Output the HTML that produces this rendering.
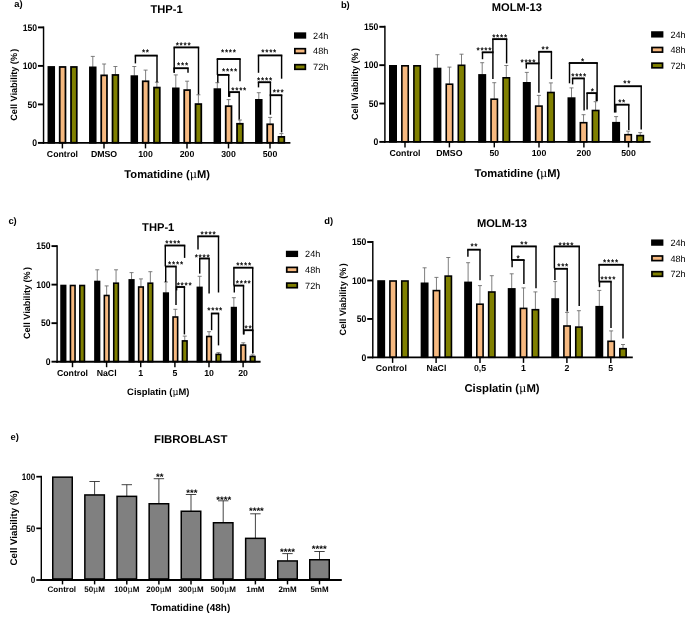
<!DOCTYPE html>
<html lang="en">
<head>
<meta charset="utf-8">
<title>Cell viability figure</title>
<style>
html,body{margin:0;padding:0;background:#fff;}
body{width:685px;height:620px;overflow:hidden;}
svg{display:block;}
svg text{font-family:"Liberation Sans", sans-serif;fill:#000;text-rendering:geometricPrecision;}
</style>
</head>
<body>
<svg width="685" height="620" viewBox="0 0 685 620">
<rect x="0" y="0" width="685" height="620" fill="#ffffff"/>
<rect x="48.42" y="66.97" width="5.75" height="75.75" fill="#000" stroke="#000" stroke-width="1.75"/>
<rect x="59.72" y="66.97" width="5.75" height="75.75" fill="#f6b980" stroke="#000" stroke-width="1.75"/>
<rect x="71.03" y="66.97" width="5.75" height="75.75" fill="#808000" stroke="#000" stroke-width="1.75"/>
<line x1="92.8" y1="56.4" x2="92.8" y2="67" stroke="#686868" stroke-width="0.85" stroke-linecap="butt"/>
<line x1="90.8" y1="56.4" x2="94.8" y2="56.4" stroke="#686868" stroke-width="0.85" stroke-linecap="butt"/>
<rect x="89.92" y="67.38" width="5.75" height="75.35" fill="#000" stroke="#000" stroke-width="1.75"/>
<line x1="104.1" y1="64" x2="104.1" y2="75" stroke="#686868" stroke-width="0.85" stroke-linecap="butt"/>
<line x1="102.1" y1="64" x2="106.1" y2="64" stroke="#686868" stroke-width="0.85" stroke-linecap="butt"/>
<rect x="101.22" y="75.38" width="5.75" height="67.35" fill="#f6b980" stroke="#000" stroke-width="1.75"/>
<line x1="115.4" y1="66.5" x2="115.4" y2="74.6" stroke="#686868" stroke-width="0.85" stroke-linecap="butt"/>
<line x1="113.4" y1="66.5" x2="117.4" y2="66.5" stroke="#686868" stroke-width="0.85" stroke-linecap="butt"/>
<rect x="112.53" y="74.97" width="5.75" height="67.75" fill="#808000" stroke="#000" stroke-width="1.75"/>
<line x1="134.3" y1="66.5" x2="134.3" y2="75.8" stroke="#686868" stroke-width="0.85" stroke-linecap="butt"/>
<line x1="132.3" y1="66.5" x2="136.3" y2="66.5" stroke="#686868" stroke-width="0.85" stroke-linecap="butt"/>
<rect x="131.43" y="76.17" width="5.75" height="66.55" fill="#000" stroke="#000" stroke-width="1.75"/>
<line x1="145.6" y1="70.1" x2="145.6" y2="80.9" stroke="#686868" stroke-width="0.85" stroke-linecap="butt"/>
<line x1="143.6" y1="70.1" x2="147.6" y2="70.1" stroke="#686868" stroke-width="0.85" stroke-linecap="butt"/>
<rect x="142.73" y="81.28" width="5.75" height="61.45" fill="#f6b980" stroke="#000" stroke-width="1.75"/>
<line x1="156.9" y1="82.2" x2="156.9" y2="87.2" stroke="#686868" stroke-width="0.85" stroke-linecap="butt"/>
<line x1="154.9" y1="82.2" x2="158.9" y2="82.2" stroke="#686868" stroke-width="0.85" stroke-linecap="butt"/>
<rect x="154.03" y="87.58" width="5.75" height="55.15" fill="#808000" stroke="#000" stroke-width="1.75"/>
<line x1="175.8" y1="74.9" x2="175.8" y2="88" stroke="#686868" stroke-width="0.85" stroke-linecap="butt"/>
<line x1="173.8" y1="74.9" x2="177.8" y2="74.9" stroke="#686868" stroke-width="0.85" stroke-linecap="butt"/>
<rect x="172.93" y="88.38" width="5.75" height="54.35" fill="#000" stroke="#000" stroke-width="1.75"/>
<line x1="187.1" y1="81.2" x2="187.1" y2="89.7" stroke="#686868" stroke-width="0.85" stroke-linecap="butt"/>
<line x1="185.1" y1="81.2" x2="189.1" y2="81.2" stroke="#686868" stroke-width="0.85" stroke-linecap="butt"/>
<rect x="184.23" y="90.08" width="5.75" height="52.65" fill="#f6b980" stroke="#000" stroke-width="1.75"/>
<line x1="198.4" y1="94.8" x2="198.4" y2="103.7" stroke="#686868" stroke-width="0.85" stroke-linecap="butt"/>
<line x1="196.4" y1="94.8" x2="200.4" y2="94.8" stroke="#686868" stroke-width="0.85" stroke-linecap="butt"/>
<rect x="195.53" y="104.08" width="5.75" height="38.65" fill="#808000" stroke="#000" stroke-width="1.75"/>
<line x1="217.3" y1="82.7" x2="217.3" y2="88.8" stroke="#686868" stroke-width="0.85" stroke-linecap="butt"/>
<line x1="215.3" y1="82.7" x2="219.3" y2="82.7" stroke="#686868" stroke-width="0.85" stroke-linecap="butt"/>
<rect x="214.43" y="89.17" width="5.75" height="53.55" fill="#000" stroke="#000" stroke-width="1.75"/>
<line x1="228.6" y1="99.6" x2="228.6" y2="105.8" stroke="#686868" stroke-width="0.85" stroke-linecap="butt"/>
<line x1="226.6" y1="99.6" x2="230.6" y2="99.6" stroke="#686868" stroke-width="0.85" stroke-linecap="butt"/>
<rect x="225.73" y="106.17" width="5.75" height="36.55" fill="#f6b980" stroke="#000" stroke-width="1.75"/>
<line x1="239.9" y1="120" x2="239.9" y2="123.4" stroke="#686868" stroke-width="0.85" stroke-linecap="butt"/>
<line x1="237.9" y1="120" x2="241.9" y2="120" stroke="#686868" stroke-width="0.85" stroke-linecap="butt"/>
<rect x="237.03" y="123.78" width="5.75" height="18.95" fill="#808000" stroke="#000" stroke-width="1.75"/>
<line x1="258.8" y1="92.7" x2="258.8" y2="99.5" stroke="#686868" stroke-width="0.85" stroke-linecap="butt"/>
<line x1="256.8" y1="92.7" x2="260.8" y2="92.7" stroke="#686868" stroke-width="0.85" stroke-linecap="butt"/>
<rect x="255.93" y="99.88" width="5.75" height="42.85" fill="#000" stroke="#000" stroke-width="1.75"/>
<line x1="270.1" y1="117.4" x2="270.1" y2="123.9" stroke="#686868" stroke-width="0.85" stroke-linecap="butt"/>
<line x1="268.1" y1="117.4" x2="272.1" y2="117.4" stroke="#686868" stroke-width="0.85" stroke-linecap="butt"/>
<rect x="267.23" y="124.28" width="5.75" height="18.45" fill="#f6b980" stroke="#000" stroke-width="1.75"/>
<line x1="281.4" y1="133.6" x2="281.4" y2="136.5" stroke="#686868" stroke-width="0.85" stroke-linecap="butt"/>
<line x1="279.4" y1="133.6" x2="283.4" y2="133.6" stroke="#686868" stroke-width="0.85" stroke-linecap="butt"/>
<rect x="278.53" y="136.88" width="5.75" height="5.85" fill="#808000" stroke="#000" stroke-width="1.75"/>
<line x1="43.55" y1="26.45" x2="43.55" y2="143.85" stroke="#000" stroke-width="1.45" stroke-linecap="butt"/>
<line x1="42.82" y1="142.9" x2="290.4" y2="142.9" stroke="#000" stroke-width="1.9" stroke-linecap="butt"/>
<line x1="37.95" y1="142.9" x2="43.55" y2="142.9" stroke="#000" stroke-width="1.9" stroke-linecap="butt"/>
<text transform="translate(37.05 146) scale(1 1.11)" font-size="8.65" font-weight="bold" text-anchor="end">0</text>
<line x1="37.95" y1="104.4" x2="43.55" y2="104.4" stroke="#000" stroke-width="1.9" stroke-linecap="butt"/>
<text transform="translate(37.05 107.5) scale(1 1.11)" font-size="8.65" font-weight="bold" text-anchor="end">50</text>
<line x1="37.95" y1="65.9" x2="43.55" y2="65.9" stroke="#000" stroke-width="1.9" stroke-linecap="butt"/>
<text transform="translate(37.05 69) scale(1 1.11)" font-size="8.65" font-weight="bold" text-anchor="end">100</text>
<line x1="37.95" y1="27.4" x2="43.55" y2="27.4" stroke="#000" stroke-width="1.9" stroke-linecap="butt"/>
<text transform="translate(37.05 30.5) scale(1 1.11)" font-size="8.65" font-weight="bold" text-anchor="end">150</text>
<line x1="62.4" y1="142.9" x2="62.4" y2="148.4" stroke="#000" stroke-width="1.45" stroke-linecap="butt"/>
<line x1="104" y1="142.9" x2="104" y2="148.4" stroke="#000" stroke-width="1.45" stroke-linecap="butt"/>
<line x1="145.5" y1="142.9" x2="145.5" y2="148.4" stroke="#000" stroke-width="1.45" stroke-linecap="butt"/>
<line x1="187" y1="142.9" x2="187" y2="148.4" stroke="#000" stroke-width="1.45" stroke-linecap="butt"/>
<line x1="228.5" y1="142.9" x2="228.5" y2="148.4" stroke="#000" stroke-width="1.45" stroke-linecap="butt"/>
<line x1="270" y1="142.9" x2="270" y2="148.4" stroke="#000" stroke-width="1.45" stroke-linecap="butt"/>
<text x="62.4" y="157" font-size="8.75" font-weight="bold" text-anchor="middle">Control</text>
<text x="104" y="157" font-size="8.75" font-weight="bold" text-anchor="middle">DMSO</text>
<text x="145.5" y="157" font-size="8.75" font-weight="bold" text-anchor="middle">100</text>
<text x="187" y="157" font-size="8.75" font-weight="bold" text-anchor="middle">200</text>
<text x="228.5" y="157" font-size="8.75" font-weight="bold" text-anchor="middle">300</text>
<text x="270" y="157" font-size="8.75" font-weight="bold" text-anchor="middle">500</text>
<line x1="134.68" y1="55.6" x2="157.72" y2="55.6" stroke="#000" stroke-width="1.9" stroke-linecap="butt"/>
<line x1="135.4" y1="55.6" x2="135.4" y2="63.4" stroke="#000" stroke-width="1.45" stroke-linecap="butt"/>
<line x1="157" y1="55.6" x2="157" y2="82.2" stroke="#000" stroke-width="1.45" stroke-linecap="butt"/>
<line x1="173.47" y1="47.4" x2="199.22" y2="47.4" stroke="#000" stroke-width="1.9" stroke-linecap="butt"/>
<line x1="174.2" y1="47.4" x2="174.2" y2="72.8" stroke="#000" stroke-width="1.45" stroke-linecap="butt"/>
<line x1="198.5" y1="47.4" x2="198.5" y2="94.4" stroke="#000" stroke-width="1.45" stroke-linecap="butt"/>
<line x1="173.47" y1="68.2" x2="188.72" y2="68.2" stroke="#000" stroke-width="1.9" stroke-linecap="butt"/>
<line x1="174.2" y1="68.2" x2="174.2" y2="72.8" stroke="#000" stroke-width="1.45" stroke-linecap="butt"/>
<line x1="188" y1="68.2" x2="188" y2="72.8" stroke="#000" stroke-width="1.45" stroke-linecap="butt"/>
<line x1="216.68" y1="59" x2="240.72" y2="59" stroke="#000" stroke-width="1.9" stroke-linecap="butt"/>
<line x1="217.4" y1="59" x2="217.4" y2="74.9" stroke="#000" stroke-width="1.45" stroke-linecap="butt"/>
<line x1="240" y1="59" x2="240" y2="81.2" stroke="#000" stroke-width="1.45" stroke-linecap="butt"/>
<line x1="217.08" y1="74.9" x2="229.42" y2="74.9" stroke="#000" stroke-width="1.9" stroke-linecap="butt"/>
<line x1="217.8" y1="74.9" x2="217.8" y2="82.4" stroke="#000" stroke-width="1.45" stroke-linecap="butt"/>
<line x1="228.7" y1="74.9" x2="228.7" y2="96.9" stroke="#000" stroke-width="1.45" stroke-linecap="butt"/>
<line x1="228.88" y1="92.1" x2="239.92" y2="92.1" stroke="#000" stroke-width="1.9" stroke-linecap="butt"/>
<line x1="229.6" y1="92.1" x2="229.6" y2="96.9" stroke="#000" stroke-width="1.45" stroke-linecap="butt"/>
<line x1="239.2" y1="92.1" x2="239.2" y2="119.4" stroke="#000" stroke-width="1.45" stroke-linecap="butt"/>
<line x1="257.77" y1="55.4" x2="282.33" y2="55.4" stroke="#000" stroke-width="1.9" stroke-linecap="butt"/>
<line x1="258.5" y1="55.4" x2="258.5" y2="72.8" stroke="#000" stroke-width="1.45" stroke-linecap="butt"/>
<line x1="281.6" y1="55.4" x2="281.6" y2="78.7" stroke="#000" stroke-width="1.45" stroke-linecap="butt"/>
<line x1="257.77" y1="82.2" x2="271.12" y2="82.2" stroke="#000" stroke-width="1.9" stroke-linecap="butt"/>
<line x1="258.5" y1="82.2" x2="258.5" y2="87.4" stroke="#000" stroke-width="1.45" stroke-linecap="butt"/>
<line x1="270.4" y1="82.2" x2="270.4" y2="114.7" stroke="#000" stroke-width="1.45" stroke-linecap="butt"/>
<line x1="269.67" y1="95.2" x2="282.33" y2="95.2" stroke="#000" stroke-width="1.9" stroke-linecap="butt"/>
<line x1="281.6" y1="95.2" x2="281.6" y2="132.4" stroke="#000" stroke-width="1.45" stroke-linecap="butt"/>
<text x="145.88" y="54.95" font-size="8.2" font-weight="bold" text-anchor="middle" letter-spacing="0.75">**</text>
<text x="183.57" y="47.85" font-size="8.2" font-weight="bold" text-anchor="middle" letter-spacing="0.75">****</text>
<text x="182.97" y="68.15" font-size="8.2" font-weight="bold" text-anchor="middle" letter-spacing="0.75">***</text>
<text x="228.88" y="54.95" font-size="8.2" font-weight="bold" text-anchor="middle" letter-spacing="0.75">****</text>
<text x="229.97" y="74.15" font-size="8.2" font-weight="bold" text-anchor="middle" letter-spacing="0.75">****</text>
<text x="239.18" y="92.95" font-size="8.2" font-weight="bold" text-anchor="middle" letter-spacing="0.75">****</text>
<text x="269.18" y="55.15" font-size="8.2" font-weight="bold" text-anchor="middle" letter-spacing="0.75">****</text>
<text x="264.98" y="83.45" font-size="8.2" font-weight="bold" text-anchor="middle" letter-spacing="0.75">****</text>
<text x="278.57" y="95.45" font-size="8.2" font-weight="bold" text-anchor="middle" letter-spacing="0.75">***</text>
<text x="166.5" y="12.65" font-size="11.15" font-weight="bold" text-anchor="middle">THP-1</text>
<text x="167.2" y="177.7" font-size="11.15" font-weight="bold" text-anchor="middle">Tomatidine (<tspan font-family="DejaVu Serif, Liberation Serif, serif" font-weight="normal">μ</tspan>M)</text>
<text x="14.3" y="6.9" font-size="9.4" font-weight="bold" text-anchor="start">a)</text>
<text x="16.9" y="84.7" font-size="9.15" font-weight="bold" text-anchor="middle" transform="rotate(-90 16.9 84.7)">Cell Viability (%<tspan dx="1.3">)</tspan></text>
<rect x="294.85" y="33.2" width="10.5" height="4.6" fill="#000" stroke="#000" stroke-width="1.7"/>
<text x="313.1" y="38.75" font-size="9.15" font-weight="normal" text-anchor="start">24h</text>
<rect x="294.85" y="48.7" width="10.5" height="4.6" fill="#f6b980" stroke="#000" stroke-width="1.7"/>
<text x="313.1" y="54.25" font-size="9.15" font-weight="normal" text-anchor="start">48h</text>
<rect x="294.85" y="64.7" width="10.5" height="4.6" fill="#808000" stroke="#000" stroke-width="1.7"/>
<text x="313.1" y="70.25" font-size="9.15" font-weight="normal" text-anchor="start">72h</text>
<rect x="389.8" y="65.8" width="6.4" height="76" fill="#000" stroke="#000" stroke-width="1.6"/>
<rect x="401.85" y="65.8" width="6.4" height="76" fill="#f6b980" stroke="#000" stroke-width="1.6"/>
<rect x="413.9" y="65.8" width="6.4" height="76" fill="#808000" stroke="#000" stroke-width="1.6"/>
<line x1="437.4" y1="54.7" x2="437.4" y2="68.2" stroke="#686868" stroke-width="0.85" stroke-linecap="butt"/>
<line x1="435.4" y1="54.7" x2="439.4" y2="54.7" stroke="#686868" stroke-width="0.85" stroke-linecap="butt"/>
<rect x="434.2" y="68.5" width="6.4" height="73.3" fill="#000" stroke="#000" stroke-width="1.6"/>
<line x1="449.45" y1="67.1" x2="449.45" y2="83.9" stroke="#686868" stroke-width="0.85" stroke-linecap="butt"/>
<line x1="447.45" y1="67.1" x2="451.45" y2="67.1" stroke="#686868" stroke-width="0.85" stroke-linecap="butt"/>
<rect x="446.25" y="84.2" width="6.4" height="57.6" fill="#f6b980" stroke="#000" stroke-width="1.6"/>
<line x1="461.5" y1="54.2" x2="461.5" y2="65" stroke="#686868" stroke-width="0.85" stroke-linecap="butt"/>
<line x1="459.5" y1="54.2" x2="463.5" y2="54.2" stroke="#686868" stroke-width="0.85" stroke-linecap="butt"/>
<rect x="458.3" y="65.3" width="6.4" height="76.5" fill="#808000" stroke="#000" stroke-width="1.6"/>
<line x1="482.2" y1="62.7" x2="482.2" y2="74.6" stroke="#686868" stroke-width="0.85" stroke-linecap="butt"/>
<line x1="480.2" y1="62.7" x2="484.2" y2="62.7" stroke="#686868" stroke-width="0.85" stroke-linecap="butt"/>
<rect x="479" y="74.9" width="6.4" height="66.9" fill="#000" stroke="#000" stroke-width="1.6"/>
<line x1="494.25" y1="82.7" x2="494.25" y2="98.9" stroke="#686868" stroke-width="0.85" stroke-linecap="butt"/>
<line x1="492.25" y1="82.7" x2="496.25" y2="82.7" stroke="#686868" stroke-width="0.85" stroke-linecap="butt"/>
<rect x="491.05" y="99.2" width="6.4" height="42.6" fill="#f6b980" stroke="#000" stroke-width="1.6"/>
<line x1="506.3" y1="65.5" x2="506.3" y2="77.5" stroke="#686868" stroke-width="0.85" stroke-linecap="butt"/>
<line x1="504.3" y1="65.5" x2="508.3" y2="65.5" stroke="#686868" stroke-width="0.85" stroke-linecap="butt"/>
<rect x="503.1" y="77.8" width="6.4" height="64" fill="#808000" stroke="#000" stroke-width="1.6"/>
<line x1="526.8" y1="72.4" x2="526.8" y2="82.5" stroke="#686868" stroke-width="0.85" stroke-linecap="butt"/>
<line x1="524.8" y1="72.4" x2="528.8" y2="72.4" stroke="#686868" stroke-width="0.85" stroke-linecap="butt"/>
<rect x="523.6" y="82.8" width="6.4" height="59" fill="#000" stroke="#000" stroke-width="1.6"/>
<line x1="538.85" y1="95.4" x2="538.85" y2="105.8" stroke="#686868" stroke-width="0.85" stroke-linecap="butt"/>
<line x1="536.85" y1="95.4" x2="540.85" y2="95.4" stroke="#686868" stroke-width="0.85" stroke-linecap="butt"/>
<rect x="535.65" y="106.1" width="6.4" height="35.7" fill="#f6b980" stroke="#000" stroke-width="1.6"/>
<line x1="550.9" y1="82.9" x2="550.9" y2="92.2" stroke="#686868" stroke-width="0.85" stroke-linecap="butt"/>
<line x1="548.9" y1="82.9" x2="552.9" y2="82.9" stroke="#686868" stroke-width="0.85" stroke-linecap="butt"/>
<rect x="547.7" y="92.5" width="6.4" height="49.3" fill="#808000" stroke="#000" stroke-width="1.6"/>
<line x1="571.5" y1="87.9" x2="571.5" y2="97.8" stroke="#686868" stroke-width="0.85" stroke-linecap="butt"/>
<line x1="569.5" y1="87.9" x2="573.5" y2="87.9" stroke="#686868" stroke-width="0.85" stroke-linecap="butt"/>
<rect x="568.3" y="98.1" width="6.4" height="43.7" fill="#000" stroke="#000" stroke-width="1.6"/>
<line x1="583.55" y1="114.7" x2="583.55" y2="122.4" stroke="#686868" stroke-width="0.85" stroke-linecap="butt"/>
<line x1="581.55" y1="114.7" x2="585.55" y2="114.7" stroke="#686868" stroke-width="0.85" stroke-linecap="butt"/>
<rect x="580.35" y="122.7" width="6.4" height="19.1" fill="#f6b980" stroke="#000" stroke-width="1.6"/>
<line x1="595.6" y1="101.7" x2="595.6" y2="110.2" stroke="#686868" stroke-width="0.85" stroke-linecap="butt"/>
<line x1="593.6" y1="101.7" x2="597.6" y2="101.7" stroke="#686868" stroke-width="0.85" stroke-linecap="butt"/>
<rect x="592.4" y="110.5" width="6.4" height="31.3" fill="#808000" stroke="#000" stroke-width="1.6"/>
<line x1="616.1" y1="116.6" x2="616.1" y2="122.4" stroke="#686868" stroke-width="0.85" stroke-linecap="butt"/>
<line x1="614.1" y1="116.6" x2="618.1" y2="116.6" stroke="#686868" stroke-width="0.85" stroke-linecap="butt"/>
<rect x="612.9" y="122.7" width="6.4" height="19.1" fill="#000" stroke="#000" stroke-width="1.6"/>
<line x1="628.15" y1="131.1" x2="628.15" y2="134.4" stroke="#686868" stroke-width="0.85" stroke-linecap="butt"/>
<line x1="626.15" y1="131.1" x2="630.15" y2="131.1" stroke="#686868" stroke-width="0.85" stroke-linecap="butt"/>
<rect x="624.95" y="134.7" width="6.4" height="7.1" fill="#f6b980" stroke="#000" stroke-width="1.6"/>
<line x1="640.2" y1="132.6" x2="640.2" y2="135.3" stroke="#686868" stroke-width="0.85" stroke-linecap="butt"/>
<line x1="638.2" y1="132.6" x2="642.2" y2="132.6" stroke="#686868" stroke-width="0.85" stroke-linecap="butt"/>
<rect x="637" y="135.6" width="6.4" height="6.2" fill="#808000" stroke="#000" stroke-width="1.6"/>
<line x1="384.9" y1="25.85" x2="384.9" y2="142.85" stroke="#000" stroke-width="1.45" stroke-linecap="butt"/>
<line x1="384.17" y1="141.9" x2="650.6" y2="141.9" stroke="#000" stroke-width="1.9" stroke-linecap="butt"/>
<line x1="379.3" y1="141.9" x2="384.9" y2="141.9" stroke="#000" stroke-width="1.9" stroke-linecap="butt"/>
<text transform="translate(378.4 145) scale(1 1.11)" font-size="8.65" font-weight="bold" text-anchor="end">0</text>
<line x1="379.3" y1="103.53" x2="384.9" y2="103.53" stroke="#000" stroke-width="1.9" stroke-linecap="butt"/>
<text transform="translate(378.4 106.63) scale(1 1.11)" font-size="8.65" font-weight="bold" text-anchor="end">50</text>
<line x1="379.3" y1="65.17" x2="384.9" y2="65.17" stroke="#000" stroke-width="1.9" stroke-linecap="butt"/>
<text transform="translate(378.4 68.27) scale(1 1.11)" font-size="8.65" font-weight="bold" text-anchor="end">100</text>
<line x1="379.3" y1="26.8" x2="384.9" y2="26.8" stroke="#000" stroke-width="1.9" stroke-linecap="butt"/>
<text transform="translate(378.4 29.9) scale(1 1.11)" font-size="8.65" font-weight="bold" text-anchor="end">150</text>
<line x1="405" y1="141.9" x2="405" y2="147.4" stroke="#000" stroke-width="1.45" stroke-linecap="butt"/>
<line x1="449.4" y1="141.9" x2="449.4" y2="147.4" stroke="#000" stroke-width="1.45" stroke-linecap="butt"/>
<line x1="494.3" y1="141.9" x2="494.3" y2="147.4" stroke="#000" stroke-width="1.45" stroke-linecap="butt"/>
<line x1="539" y1="141.9" x2="539" y2="147.4" stroke="#000" stroke-width="1.45" stroke-linecap="butt"/>
<line x1="583.9" y1="141.9" x2="583.9" y2="147.4" stroke="#000" stroke-width="1.45" stroke-linecap="butt"/>
<line x1="628.5" y1="141.9" x2="628.5" y2="147.4" stroke="#000" stroke-width="1.45" stroke-linecap="butt"/>
<text x="405" y="156.2" font-size="8.75" font-weight="bold" text-anchor="middle">Control</text>
<text x="449.4" y="156.2" font-size="8.75" font-weight="bold" text-anchor="middle">DMSO</text>
<text x="494.3" y="156.2" font-size="8.75" font-weight="bold" text-anchor="middle">50</text>
<text x="539" y="156.2" font-size="8.75" font-weight="bold" text-anchor="middle">100</text>
<text x="583.9" y="156.2" font-size="8.75" font-weight="bold" text-anchor="middle">200</text>
<text x="628.5" y="156.2" font-size="8.75" font-weight="bold" text-anchor="middle">500</text>
<line x1="481.77" y1="52.3" x2="493.62" y2="52.3" stroke="#000" stroke-width="1.9" stroke-linecap="butt"/>
<line x1="482.5" y1="52.3" x2="482.5" y2="59.2" stroke="#000" stroke-width="1.45" stroke-linecap="butt"/>
<line x1="492.9" y1="52.3" x2="492.9" y2="79.1" stroke="#000" stroke-width="1.45" stroke-linecap="butt"/>
<line x1="492.17" y1="39.1" x2="507.33" y2="39.1" stroke="#000" stroke-width="1.9" stroke-linecap="butt"/>
<line x1="492.9" y1="39.1" x2="492.9" y2="52.3" stroke="#000" stroke-width="1.45" stroke-linecap="butt"/>
<line x1="506.6" y1="39.1" x2="506.6" y2="63.4" stroke="#000" stroke-width="1.45" stroke-linecap="butt"/>
<line x1="525.57" y1="63.4" x2="539.62" y2="63.4" stroke="#000" stroke-width="1.9" stroke-linecap="butt"/>
<line x1="526.3" y1="63.4" x2="526.3" y2="68.6" stroke="#000" stroke-width="1.45" stroke-linecap="butt"/>
<line x1="538.9" y1="63.4" x2="538.9" y2="92.7" stroke="#000" stroke-width="1.45" stroke-linecap="butt"/>
<line x1="538.17" y1="51.8" x2="552.12" y2="51.8" stroke="#000" stroke-width="1.9" stroke-linecap="butt"/>
<line x1="538.9" y1="51.8" x2="538.9" y2="63.4" stroke="#000" stroke-width="1.45" stroke-linecap="butt"/>
<line x1="551.4" y1="51.8" x2="551.4" y2="79.1" stroke="#000" stroke-width="1.45" stroke-linecap="butt"/>
<line x1="568.77" y1="63" x2="597.83" y2="63" stroke="#000" stroke-width="1.9" stroke-linecap="butt"/>
<line x1="569.5" y1="63" x2="569.5" y2="83.3" stroke="#000" stroke-width="1.45" stroke-linecap="butt"/>
<line x1="597.1" y1="63" x2="597.1" y2="101.1" stroke="#000" stroke-width="1.45" stroke-linecap="butt"/>
<line x1="571.88" y1="78.4" x2="584.83" y2="78.4" stroke="#000" stroke-width="1.9" stroke-linecap="butt"/>
<line x1="572.6" y1="78.4" x2="572.6" y2="84.4" stroke="#000" stroke-width="1.45" stroke-linecap="butt"/>
<line x1="584.1" y1="78.4" x2="584.1" y2="110.5" stroke="#000" stroke-width="1.45" stroke-linecap="butt"/>
<line x1="586.38" y1="93.1" x2="597.02" y2="93.1" stroke="#000" stroke-width="1.9" stroke-linecap="butt"/>
<line x1="587.1" y1="93.1" x2="587.1" y2="109.5" stroke="#000" stroke-width="1.45" stroke-linecap="butt"/>
<line x1="596.3" y1="93.1" x2="596.3" y2="101.1" stroke="#000" stroke-width="1.45" stroke-linecap="butt"/>
<line x1="613.88" y1="86.2" x2="641.93" y2="86.2" stroke="#000" stroke-width="1.9" stroke-linecap="butt"/>
<line x1="614.6" y1="86.2" x2="614.6" y2="112.6" stroke="#000" stroke-width="1.45" stroke-linecap="butt"/>
<line x1="641.2" y1="86.2" x2="641.2" y2="129.4" stroke="#000" stroke-width="1.45" stroke-linecap="butt"/>
<line x1="615.07" y1="104.7" x2="629.52" y2="104.7" stroke="#000" stroke-width="1.9" stroke-linecap="butt"/>
<line x1="615.8" y1="104.7" x2="615.8" y2="112.6" stroke="#000" stroke-width="1.45" stroke-linecap="butt"/>
<line x1="628.8" y1="104.7" x2="628.8" y2="129.9" stroke="#000" stroke-width="1.45" stroke-linecap="butt"/>
<text x="484.38" y="53.15" font-size="8.2" font-weight="bold" text-anchor="middle" letter-spacing="0.75">****</text>
<text x="500.07" y="40.15" font-size="8.2" font-weight="bold" text-anchor="middle" letter-spacing="0.75">****</text>
<text x="528.38" y="65.05" font-size="8.2" font-weight="bold" text-anchor="middle" letter-spacing="0.75">****</text>
<text x="545.48" y="52.45" font-size="8.2" font-weight="bold" text-anchor="middle" letter-spacing="0.75">**</text>
<text x="582.88" y="63.95" font-size="8.2" font-weight="bold" text-anchor="middle" letter-spacing="0.75">*</text>
<text x="579.08" y="79.25" font-size="8.2" font-weight="bold" text-anchor="middle" letter-spacing="0.75">****</text>
<text x="592.67" y="93.95" font-size="8.2" font-weight="bold" text-anchor="middle" letter-spacing="0.75">*</text>
<text x="627.27" y="85.95" font-size="8.2" font-weight="bold" text-anchor="middle" letter-spacing="0.75">**</text>
<text x="622.08" y="105.25" font-size="8.2" font-weight="bold" text-anchor="middle" letter-spacing="0.75">**</text>
<text x="516.9" y="11.45" font-size="11.15" font-weight="bold" text-anchor="middle">MOLM-13</text>
<text x="517.4" y="177.2" font-size="11.15" font-weight="bold" text-anchor="middle">Tomatidine (<tspan font-family="DejaVu Serif, Liberation Serif, serif" font-weight="normal">μ</tspan>M)</text>
<text x="340.9" y="7.6" font-size="9.4" font-weight="bold" text-anchor="start">b)</text>
<text x="358.2" y="84" font-size="9.15" font-weight="bold" text-anchor="middle" transform="rotate(-90 358.2 84)">Cell Viability (%<tspan dx="1.3">)</tspan></text>
<rect x="651.95" y="32.1" width="10.6" height="4.6" fill="#000" stroke="#000" stroke-width="1.7"/>
<text x="670.4" y="37.65" font-size="9.15" font-weight="normal" text-anchor="start">24h</text>
<rect x="651.95" y="47.5" width="10.6" height="4.6" fill="#f6b980" stroke="#000" stroke-width="1.7"/>
<text x="670.4" y="53.05" font-size="9.15" font-weight="normal" text-anchor="start">48h</text>
<rect x="651.95" y="63.2" width="10.6" height="4.6" fill="#808000" stroke="#000" stroke-width="1.7"/>
<text x="670.4" y="68.75" font-size="9.15" font-weight="normal" text-anchor="start">72h</text>
<rect x="61.05" y="285.5" width="4.6" height="76.1" fill="#000" stroke="#000" stroke-width="1.6"/>
<rect x="70.45" y="285.5" width="4.6" height="76.1" fill="#f6b980" stroke="#000" stroke-width="1.6"/>
<rect x="79.85" y="285.5" width="4.6" height="76.1" fill="#808000" stroke="#000" stroke-width="1.6"/>
<line x1="97.25" y1="269.8" x2="97.25" y2="281.2" stroke="#686868" stroke-width="0.85" stroke-linecap="butt"/>
<line x1="95.25" y1="269.8" x2="99.25" y2="269.8" stroke="#686868" stroke-width="0.85" stroke-linecap="butt"/>
<rect x="94.95" y="281.5" width="4.6" height="80.1" fill="#000" stroke="#000" stroke-width="1.6"/>
<line x1="106.65" y1="285.9" x2="106.65" y2="295.2" stroke="#686868" stroke-width="0.85" stroke-linecap="butt"/>
<line x1="104.65" y1="285.9" x2="108.65" y2="285.9" stroke="#686868" stroke-width="0.85" stroke-linecap="butt"/>
<rect x="104.35" y="295.5" width="4.6" height="66.1" fill="#f6b980" stroke="#000" stroke-width="1.6"/>
<line x1="116.05" y1="269.8" x2="116.05" y2="282.9" stroke="#686868" stroke-width="0.85" stroke-linecap="butt"/>
<line x1="114.05" y1="269.8" x2="118.05" y2="269.8" stroke="#686868" stroke-width="0.85" stroke-linecap="butt"/>
<rect x="113.75" y="283.2" width="4.6" height="78.4" fill="#808000" stroke="#000" stroke-width="1.6"/>
<line x1="131.55" y1="272.6" x2="131.55" y2="279.6" stroke="#686868" stroke-width="0.85" stroke-linecap="butt"/>
<line x1="129.55" y1="272.6" x2="133.55" y2="272.6" stroke="#686868" stroke-width="0.85" stroke-linecap="butt"/>
<rect x="129.25" y="279.9" width="4.6" height="81.7" fill="#000" stroke="#000" stroke-width="1.6"/>
<line x1="140.95" y1="278.9" x2="140.95" y2="286.7" stroke="#686868" stroke-width="0.85" stroke-linecap="butt"/>
<line x1="138.95" y1="278.9" x2="142.95" y2="278.9" stroke="#686868" stroke-width="0.85" stroke-linecap="butt"/>
<rect x="138.65" y="287" width="4.6" height="74.6" fill="#f6b980" stroke="#000" stroke-width="1.6"/>
<line x1="150.35" y1="271.7" x2="150.35" y2="282.9" stroke="#686868" stroke-width="0.85" stroke-linecap="butt"/>
<line x1="148.35" y1="271.7" x2="152.35" y2="271.7" stroke="#686868" stroke-width="0.85" stroke-linecap="butt"/>
<rect x="148.05" y="283.2" width="4.6" height="78.4" fill="#808000" stroke="#000" stroke-width="1.6"/>
<line x1="165.95" y1="282" x2="165.95" y2="292.8" stroke="#686868" stroke-width="0.85" stroke-linecap="butt"/>
<line x1="163.95" y1="282" x2="167.95" y2="282" stroke="#686868" stroke-width="0.85" stroke-linecap="butt"/>
<rect x="163.65" y="293.1" width="4.6" height="68.5" fill="#000" stroke="#000" stroke-width="1.6"/>
<line x1="175.35" y1="309.3" x2="175.35" y2="316.7" stroke="#686868" stroke-width="0.85" stroke-linecap="butt"/>
<line x1="173.35" y1="309.3" x2="177.35" y2="309.3" stroke="#686868" stroke-width="0.85" stroke-linecap="butt"/>
<rect x="173.05" y="317" width="4.6" height="44.6" fill="#f6b980" stroke="#000" stroke-width="1.6"/>
<line x1="184.75" y1="336.1" x2="184.75" y2="340.6" stroke="#686868" stroke-width="0.85" stroke-linecap="butt"/>
<line x1="182.75" y1="336.1" x2="186.75" y2="336.1" stroke="#686868" stroke-width="0.85" stroke-linecap="butt"/>
<rect x="182.45" y="340.9" width="4.6" height="20.7" fill="#808000" stroke="#000" stroke-width="1.6"/>
<line x1="199.65" y1="276.3" x2="199.65" y2="287.1" stroke="#686868" stroke-width="0.85" stroke-linecap="butt"/>
<line x1="197.65" y1="276.3" x2="201.65" y2="276.3" stroke="#686868" stroke-width="0.85" stroke-linecap="butt"/>
<rect x="197.35" y="287.4" width="4.6" height="74.2" fill="#000" stroke="#000" stroke-width="1.6"/>
<line x1="209.05" y1="331.7" x2="209.05" y2="336.2" stroke="#686868" stroke-width="0.85" stroke-linecap="butt"/>
<line x1="207.05" y1="331.7" x2="211.05" y2="331.7" stroke="#686868" stroke-width="0.85" stroke-linecap="butt"/>
<rect x="206.75" y="336.5" width="4.6" height="25.1" fill="#f6b980" stroke="#000" stroke-width="1.6"/>
<line x1="218.45" y1="352.6" x2="218.45" y2="354.1" stroke="#686868" stroke-width="0.85" stroke-linecap="butt"/>
<line x1="216.45" y1="352.6" x2="220.45" y2="352.6" stroke="#686868" stroke-width="0.85" stroke-linecap="butt"/>
<rect x="216.15" y="354.4" width="4.6" height="7.2" fill="#808000" stroke="#000" stroke-width="1.6"/>
<line x1="233.85" y1="297.7" x2="233.85" y2="307.3" stroke="#686868" stroke-width="0.85" stroke-linecap="butt"/>
<line x1="231.85" y1="297.7" x2="235.85" y2="297.7" stroke="#686868" stroke-width="0.85" stroke-linecap="butt"/>
<rect x="231.55" y="307.6" width="4.6" height="54" fill="#000" stroke="#000" stroke-width="1.6"/>
<line x1="243.25" y1="342.8" x2="243.25" y2="344.8" stroke="#686868" stroke-width="0.85" stroke-linecap="butt"/>
<line x1="241.25" y1="342.8" x2="245.25" y2="342.8" stroke="#686868" stroke-width="0.85" stroke-linecap="butt"/>
<rect x="240.95" y="345.1" width="4.6" height="16.5" fill="#f6b980" stroke="#000" stroke-width="1.6"/>
<line x1="252.65" y1="354.9" x2="252.65" y2="356.2" stroke="#686868" stroke-width="0.85" stroke-linecap="butt"/>
<line x1="250.65" y1="354.9" x2="254.65" y2="354.9" stroke="#686868" stroke-width="0.85" stroke-linecap="butt"/>
<rect x="250.35" y="356.5" width="4.6" height="5.1" fill="#808000" stroke="#000" stroke-width="1.6"/>
<line x1="57.1" y1="245.15" x2="57.1" y2="362.65" stroke="#000" stroke-width="1.45" stroke-linecap="butt"/>
<line x1="56.38" y1="361.7" x2="260.6" y2="361.7" stroke="#000" stroke-width="1.9" stroke-linecap="butt"/>
<line x1="51.5" y1="361.7" x2="57.1" y2="361.7" stroke="#000" stroke-width="1.9" stroke-linecap="butt"/>
<text transform="translate(50.6 364.8) scale(1 1.11)" font-size="8.65" font-weight="bold" text-anchor="end">0</text>
<line x1="51.5" y1="323.17" x2="57.1" y2="323.17" stroke="#000" stroke-width="1.9" stroke-linecap="butt"/>
<text transform="translate(50.6 326.27) scale(1 1.11)" font-size="8.65" font-weight="bold" text-anchor="end">50</text>
<line x1="51.5" y1="284.63" x2="57.1" y2="284.63" stroke="#000" stroke-width="1.9" stroke-linecap="butt"/>
<text transform="translate(50.6 287.73) scale(1 1.11)" font-size="8.65" font-weight="bold" text-anchor="end">100</text>
<line x1="51.5" y1="246.1" x2="57.1" y2="246.1" stroke="#000" stroke-width="1.9" stroke-linecap="butt"/>
<text transform="translate(50.6 249.2) scale(1 1.11)" font-size="8.65" font-weight="bold" text-anchor="end">150</text>
<line x1="72.5" y1="361.7" x2="72.5" y2="367.2" stroke="#000" stroke-width="1.45" stroke-linecap="butt"/>
<line x1="106.6" y1="361.7" x2="106.6" y2="367.2" stroke="#000" stroke-width="1.45" stroke-linecap="butt"/>
<line x1="140.7" y1="361.7" x2="140.7" y2="367.2" stroke="#000" stroke-width="1.45" stroke-linecap="butt"/>
<line x1="174.9" y1="361.7" x2="174.9" y2="367.2" stroke="#000" stroke-width="1.45" stroke-linecap="butt"/>
<line x1="209" y1="361.7" x2="209" y2="367.2" stroke="#000" stroke-width="1.45" stroke-linecap="butt"/>
<line x1="243.1" y1="361.7" x2="243.1" y2="367.2" stroke="#000" stroke-width="1.45" stroke-linecap="butt"/>
<text x="72.5" y="376" font-size="8.75" font-weight="bold" text-anchor="middle">Control</text>
<text x="106.6" y="376" font-size="8.75" font-weight="bold" text-anchor="middle">NaCl</text>
<text x="140.7" y="376" font-size="8.75" font-weight="bold" text-anchor="middle">1</text>
<text x="174.9" y="376" font-size="8.75" font-weight="bold" text-anchor="middle">5</text>
<text x="209" y="376" font-size="8.75" font-weight="bold" text-anchor="middle">10</text>
<text x="243.1" y="376" font-size="8.75" font-weight="bold" text-anchor="middle">20</text>
<line x1="164.58" y1="245.5" x2="185.32" y2="245.5" stroke="#000" stroke-width="1.9" stroke-linecap="butt"/>
<line x1="165.3" y1="245.5" x2="165.3" y2="266.4" stroke="#000" stroke-width="1.45" stroke-linecap="butt"/>
<line x1="184.6" y1="245.5" x2="184.6" y2="257.9" stroke="#000" stroke-width="1.45" stroke-linecap="butt"/>
<line x1="164.97" y1="266.5" x2="176.72" y2="266.5" stroke="#000" stroke-width="1.9" stroke-linecap="butt"/>
<line x1="165.7" y1="266.5" x2="165.7" y2="282" stroke="#000" stroke-width="1.45" stroke-linecap="butt"/>
<line x1="176" y1="266.5" x2="176" y2="305.1" stroke="#000" stroke-width="1.45" stroke-linecap="butt"/>
<line x1="175.88" y1="287" x2="185.12" y2="287" stroke="#000" stroke-width="1.9" stroke-linecap="butt"/>
<line x1="176.6" y1="287" x2="176.6" y2="290.4" stroke="#000" stroke-width="1.45" stroke-linecap="butt"/>
<line x1="184.4" y1="287" x2="184.4" y2="334.4" stroke="#000" stroke-width="1.45" stroke-linecap="butt"/>
<line x1="197.28" y1="236.3" x2="219.22" y2="236.3" stroke="#000" stroke-width="1.9" stroke-linecap="butt"/>
<line x1="198" y1="236.3" x2="198" y2="249.5" stroke="#000" stroke-width="1.45" stroke-linecap="butt"/>
<line x1="218.5" y1="236.3" x2="218.5" y2="292.5" stroke="#000" stroke-width="1.45" stroke-linecap="butt"/>
<line x1="198.97" y1="258.5" x2="209.82" y2="258.5" stroke="#000" stroke-width="1.9" stroke-linecap="butt"/>
<line x1="199.7" y1="258.5" x2="199.7" y2="273.6" stroke="#000" stroke-width="1.45" stroke-linecap="butt"/>
<line x1="209.1" y1="258.5" x2="209.1" y2="293.5" stroke="#000" stroke-width="1.45" stroke-linecap="butt"/>
<line x1="210.88" y1="313.5" x2="219.22" y2="313.5" stroke="#000" stroke-width="1.9" stroke-linecap="butt"/>
<line x1="211.6" y1="313.5" x2="211.6" y2="330.2" stroke="#000" stroke-width="1.45" stroke-linecap="butt"/>
<line x1="218.5" y1="313.5" x2="218.5" y2="345.4" stroke="#000" stroke-width="1.45" stroke-linecap="butt"/>
<line x1="233.18" y1="267.7" x2="253.42" y2="267.7" stroke="#000" stroke-width="1.9" stroke-linecap="butt"/>
<line x1="233.9" y1="267.7" x2="233.9" y2="285.4" stroke="#000" stroke-width="1.45" stroke-linecap="butt"/>
<line x1="252.7" y1="267.7" x2="252.7" y2="353.3" stroke="#000" stroke-width="1.45" stroke-linecap="butt"/>
<line x1="233.58" y1="285.6" x2="244.22" y2="285.6" stroke="#000" stroke-width="1.9" stroke-linecap="butt"/>
<line x1="234.3" y1="285.6" x2="234.3" y2="292.5" stroke="#000" stroke-width="1.45" stroke-linecap="butt"/>
<line x1="243.5" y1="285.6" x2="243.5" y2="334.4" stroke="#000" stroke-width="1.45" stroke-linecap="butt"/>
<line x1="243.18" y1="330.2" x2="253.42" y2="330.2" stroke="#000" stroke-width="1.9" stroke-linecap="butt"/>
<line x1="243.9" y1="330.2" x2="243.9" y2="334.4" stroke="#000" stroke-width="1.45" stroke-linecap="butt"/>
<line x1="252.7" y1="330.2" x2="252.7" y2="353.3" stroke="#000" stroke-width="1.45" stroke-linecap="butt"/>
<text x="173.18" y="246.35" font-size="8.2" font-weight="bold" text-anchor="middle" letter-spacing="0.75">****</text>
<text x="175.97" y="267.15" font-size="8.2" font-weight="bold" text-anchor="middle" letter-spacing="0.75">****</text>
<text x="184.57" y="288.25" font-size="8.2" font-weight="bold" text-anchor="middle" letter-spacing="0.75">****</text>
<text x="208.47" y="236.65" font-size="8.2" font-weight="bold" text-anchor="middle" letter-spacing="0.75">****</text>
<text x="202.57" y="259.55" font-size="8.2" font-weight="bold" text-anchor="middle" letter-spacing="0.75">****</text>
<text x="215.18" y="313.05" font-size="8.2" font-weight="bold" text-anchor="middle" letter-spacing="0.75">****</text>
<text x="244.07" y="268.35" font-size="8.2" font-weight="bold" text-anchor="middle" letter-spacing="0.75">****</text>
<text x="243.68" y="285.75" font-size="8.2" font-weight="bold" text-anchor="middle" letter-spacing="0.75">****</text>
<text x="248.47" y="331.45" font-size="8.2" font-weight="bold" text-anchor="middle" letter-spacing="0.75">**</text>
<text x="158.2" y="231.45" font-size="11.15" font-weight="bold" text-anchor="middle">THP-1</text>
<text x="158.3" y="395.4" font-size="9.4" font-weight="bold" text-anchor="middle">Cisplatin (<tspan font-family="DejaVu Serif, Liberation Serif, serif" font-weight="normal">μ</tspan>M)</text>
<text x="8.4" y="223.6" font-size="9.4" font-weight="bold" text-anchor="start">c)</text>
<text x="30.3" y="303" font-size="9.15" font-weight="bold" text-anchor="middle" transform="rotate(-90 30.3 303)">Cell Viability (%<tspan dx="1.3">)</tspan></text>
<rect x="286.75" y="251.6" width="10.5" height="4.6" fill="#000" stroke="#000" stroke-width="1.7"/>
<text x="305.1" y="257.15" font-size="9.15" font-weight="normal" text-anchor="start">24h</text>
<rect x="286.75" y="267.4" width="10.5" height="4.6" fill="#f6b980" stroke="#000" stroke-width="1.7"/>
<text x="305.1" y="272.95" font-size="9.15" font-weight="normal" text-anchor="start">48h</text>
<rect x="286.75" y="283.1" width="10.5" height="4.6" fill="#808000" stroke="#000" stroke-width="1.7"/>
<text x="305.1" y="288.65" font-size="9.15" font-weight="normal" text-anchor="start">72h</text>
<rect x="378.05" y="281" width="6.3" height="76.3" fill="#000" stroke="#000" stroke-width="1.6"/>
<rect x="389.9" y="281" width="6.3" height="76.3" fill="#f6b980" stroke="#000" stroke-width="1.6"/>
<rect x="401.75" y="281" width="6.3" height="76.3" fill="#808000" stroke="#000" stroke-width="1.6"/>
<line x1="424.6" y1="267.8" x2="424.6" y2="283" stroke="#686868" stroke-width="0.85" stroke-linecap="butt"/>
<line x1="422.6" y1="267.8" x2="426.6" y2="267.8" stroke="#686868" stroke-width="0.85" stroke-linecap="butt"/>
<rect x="421.45" y="283.3" width="6.3" height="74" fill="#000" stroke="#000" stroke-width="1.6"/>
<line x1="436.45" y1="277.4" x2="436.45" y2="290.3" stroke="#686868" stroke-width="0.85" stroke-linecap="butt"/>
<line x1="434.45" y1="277.4" x2="438.45" y2="277.4" stroke="#686868" stroke-width="0.85" stroke-linecap="butt"/>
<rect x="433.3" y="290.6" width="6.3" height="66.7" fill="#f6b980" stroke="#000" stroke-width="1.6"/>
<line x1="448.3" y1="257.5" x2="448.3" y2="275.8" stroke="#686868" stroke-width="0.85" stroke-linecap="butt"/>
<line x1="446.3" y1="257.5" x2="450.3" y2="257.5" stroke="#686868" stroke-width="0.85" stroke-linecap="butt"/>
<rect x="445.15" y="276.1" width="6.3" height="81.2" fill="#808000" stroke="#000" stroke-width="1.6"/>
<line x1="468.1" y1="262.7" x2="468.1" y2="282.1" stroke="#686868" stroke-width="0.85" stroke-linecap="butt"/>
<line x1="466.1" y1="262.7" x2="470.1" y2="262.7" stroke="#686868" stroke-width="0.85" stroke-linecap="butt"/>
<rect x="464.95" y="282.4" width="6.3" height="74.9" fill="#000" stroke="#000" stroke-width="1.6"/>
<line x1="479.95" y1="285.6" x2="479.95" y2="303.9" stroke="#686868" stroke-width="0.85" stroke-linecap="butt"/>
<line x1="477.95" y1="285.6" x2="481.95" y2="285.6" stroke="#686868" stroke-width="0.85" stroke-linecap="butt"/>
<rect x="476.8" y="304.2" width="6.3" height="53.1" fill="#f6b980" stroke="#000" stroke-width="1.6"/>
<line x1="491.8" y1="275.7" x2="491.8" y2="291.7" stroke="#686868" stroke-width="0.85" stroke-linecap="butt"/>
<line x1="489.8" y1="275.7" x2="493.8" y2="275.7" stroke="#686868" stroke-width="0.85" stroke-linecap="butt"/>
<rect x="488.65" y="292" width="6.3" height="65.3" fill="#808000" stroke="#000" stroke-width="1.6"/>
<line x1="511.7" y1="273.8" x2="511.7" y2="288.6" stroke="#686868" stroke-width="0.85" stroke-linecap="butt"/>
<line x1="509.7" y1="273.8" x2="513.7" y2="273.8" stroke="#686868" stroke-width="0.85" stroke-linecap="butt"/>
<rect x="508.55" y="288.9" width="6.3" height="68.4" fill="#000" stroke="#000" stroke-width="1.6"/>
<line x1="523.55" y1="287.9" x2="523.55" y2="308.1" stroke="#686868" stroke-width="0.85" stroke-linecap="butt"/>
<line x1="521.55" y1="287.9" x2="525.55" y2="287.9" stroke="#686868" stroke-width="0.85" stroke-linecap="butt"/>
<rect x="520.4" y="308.4" width="6.3" height="48.9" fill="#f6b980" stroke="#000" stroke-width="1.6"/>
<line x1="535.4" y1="291.9" x2="535.4" y2="309.4" stroke="#686868" stroke-width="0.85" stroke-linecap="butt"/>
<line x1="533.4" y1="291.9" x2="537.4" y2="291.9" stroke="#686868" stroke-width="0.85" stroke-linecap="butt"/>
<rect x="532.25" y="309.7" width="6.3" height="47.6" fill="#808000" stroke="#000" stroke-width="1.6"/>
<line x1="555.2" y1="281.6" x2="555.2" y2="298.7" stroke="#686868" stroke-width="0.85" stroke-linecap="butt"/>
<line x1="553.2" y1="281.6" x2="557.2" y2="281.6" stroke="#686868" stroke-width="0.85" stroke-linecap="butt"/>
<rect x="552.05" y="299" width="6.3" height="58.3" fill="#000" stroke="#000" stroke-width="1.6"/>
<line x1="567.05" y1="312.4" x2="567.05" y2="325.7" stroke="#686868" stroke-width="0.85" stroke-linecap="butt"/>
<line x1="565.05" y1="312.4" x2="569.05" y2="312.4" stroke="#686868" stroke-width="0.85" stroke-linecap="butt"/>
<rect x="563.9" y="326" width="6.3" height="31.3" fill="#f6b980" stroke="#000" stroke-width="1.6"/>
<line x1="578.9" y1="310.7" x2="578.9" y2="326.8" stroke="#686868" stroke-width="0.85" stroke-linecap="butt"/>
<line x1="576.9" y1="310.7" x2="580.9" y2="310.7" stroke="#686868" stroke-width="0.85" stroke-linecap="butt"/>
<rect x="575.75" y="327.1" width="6.3" height="30.2" fill="#808000" stroke="#000" stroke-width="1.6"/>
<line x1="599.3" y1="290.4" x2="599.3" y2="306.4" stroke="#686868" stroke-width="0.85" stroke-linecap="butt"/>
<line x1="597.3" y1="290.4" x2="601.3" y2="290.4" stroke="#686868" stroke-width="0.85" stroke-linecap="butt"/>
<rect x="596.15" y="306.7" width="6.3" height="50.6" fill="#000" stroke="#000" stroke-width="1.6"/>
<line x1="611.15" y1="330.9" x2="611.15" y2="341" stroke="#686868" stroke-width="0.85" stroke-linecap="butt"/>
<line x1="609.15" y1="330.9" x2="613.15" y2="330.9" stroke="#686868" stroke-width="0.85" stroke-linecap="butt"/>
<rect x="608" y="341.3" width="6.3" height="16" fill="#f6b980" stroke="#000" stroke-width="1.6"/>
<line x1="623" y1="344.5" x2="623" y2="348.4" stroke="#686868" stroke-width="0.85" stroke-linecap="butt"/>
<line x1="621" y1="344.5" x2="625" y2="344.5" stroke="#686868" stroke-width="0.85" stroke-linecap="butt"/>
<rect x="619.85" y="348.7" width="6.3" height="8.6" fill="#808000" stroke="#000" stroke-width="1.6"/>
<line x1="372.8" y1="241.05" x2="372.8" y2="358.35" stroke="#000" stroke-width="1.45" stroke-linecap="butt"/>
<line x1="372.07" y1="357.4" x2="632.8" y2="357.4" stroke="#000" stroke-width="1.9" stroke-linecap="butt"/>
<line x1="367.2" y1="357.4" x2="372.8" y2="357.4" stroke="#000" stroke-width="1.9" stroke-linecap="butt"/>
<text transform="translate(366.3 360.5) scale(1 1.11)" font-size="8.65" font-weight="bold" text-anchor="end">0</text>
<line x1="367.2" y1="318.93" x2="372.8" y2="318.93" stroke="#000" stroke-width="1.9" stroke-linecap="butt"/>
<text transform="translate(366.3 322.03) scale(1 1.11)" font-size="8.65" font-weight="bold" text-anchor="end">50</text>
<line x1="367.2" y1="280.47" x2="372.8" y2="280.47" stroke="#000" stroke-width="1.9" stroke-linecap="butt"/>
<text transform="translate(366.3 283.57) scale(1 1.11)" font-size="8.65" font-weight="bold" text-anchor="end">100</text>
<line x1="367.2" y1="242" x2="372.8" y2="242" stroke="#000" stroke-width="1.9" stroke-linecap="butt"/>
<text transform="translate(366.3 245.1) scale(1 1.11)" font-size="8.65" font-weight="bold" text-anchor="end">150</text>
<line x1="392.6" y1="357.4" x2="392.6" y2="362.9" stroke="#000" stroke-width="1.45" stroke-linecap="butt"/>
<line x1="436.1" y1="357.4" x2="436.1" y2="362.9" stroke="#000" stroke-width="1.45" stroke-linecap="butt"/>
<line x1="480" y1="357.4" x2="480" y2="362.9" stroke="#000" stroke-width="1.45" stroke-linecap="butt"/>
<line x1="523.5" y1="357.4" x2="523.5" y2="362.9" stroke="#000" stroke-width="1.45" stroke-linecap="butt"/>
<line x1="566.9" y1="357.4" x2="566.9" y2="362.9" stroke="#000" stroke-width="1.45" stroke-linecap="butt"/>
<line x1="610.8" y1="357.4" x2="610.8" y2="362.9" stroke="#000" stroke-width="1.45" stroke-linecap="butt"/>
<text x="391.3" y="371.4" font-size="8.75" font-weight="bold" text-anchor="middle">Control</text>
<text x="436.4" y="371.4" font-size="8.75" font-weight="bold" text-anchor="middle">NaCl</text>
<text x="480" y="371.4" font-size="8.75" font-weight="bold" text-anchor="middle">0,5</text>
<text x="523.5" y="371.4" font-size="8.75" font-weight="bold" text-anchor="middle">1</text>
<text x="566.9" y="371.4" font-size="8.75" font-weight="bold" text-anchor="middle">2</text>
<text x="610.8" y="371.4" font-size="8.75" font-weight="bold" text-anchor="middle">5</text>
<line x1="467.17" y1="249.7" x2="480.73" y2="249.7" stroke="#000" stroke-width="1.9" stroke-linecap="butt"/>
<line x1="467.9" y1="249.7" x2="467.9" y2="256.8" stroke="#000" stroke-width="1.45" stroke-linecap="butt"/>
<line x1="480" y1="249.7" x2="480" y2="280.3" stroke="#000" stroke-width="1.45" stroke-linecap="butt"/>
<line x1="510.97" y1="246.4" x2="536.73" y2="246.4" stroke="#000" stroke-width="1.9" stroke-linecap="butt"/>
<line x1="511.7" y1="246.4" x2="511.7" y2="260" stroke="#000" stroke-width="1.45" stroke-linecap="butt"/>
<line x1="536" y1="246.4" x2="536" y2="288.3" stroke="#000" stroke-width="1.45" stroke-linecap="butt"/>
<line x1="511.38" y1="260" x2="524.62" y2="260" stroke="#000" stroke-width="1.9" stroke-linecap="butt"/>
<line x1="512.1" y1="260" x2="512.1" y2="267.3" stroke="#000" stroke-width="1.45" stroke-linecap="butt"/>
<line x1="523.9" y1="260" x2="523.9" y2="284.1" stroke="#000" stroke-width="1.45" stroke-linecap="butt"/>
<line x1="553.67" y1="246.4" x2="579.93" y2="246.4" stroke="#000" stroke-width="1.9" stroke-linecap="butt"/>
<line x1="554.4" y1="246.4" x2="554.4" y2="268.4" stroke="#000" stroke-width="1.45" stroke-linecap="butt"/>
<line x1="579.2" y1="246.4" x2="579.2" y2="306.1" stroke="#000" stroke-width="1.45" stroke-linecap="butt"/>
<line x1="554.17" y1="268.8" x2="567.93" y2="268.8" stroke="#000" stroke-width="1.9" stroke-linecap="butt"/>
<line x1="554.9" y1="268.8" x2="554.9" y2="279.9" stroke="#000" stroke-width="1.45" stroke-linecap="butt"/>
<line x1="567.2" y1="268.8" x2="567.2" y2="311.4" stroke="#000" stroke-width="1.45" stroke-linecap="butt"/>
<line x1="598.38" y1="264.8" x2="623.73" y2="264.8" stroke="#000" stroke-width="1.9" stroke-linecap="butt"/>
<line x1="599.1" y1="264.8" x2="599.1" y2="281.4" stroke="#000" stroke-width="1.45" stroke-linecap="butt"/>
<line x1="623" y1="264.8" x2="623" y2="338.6" stroke="#000" stroke-width="1.45" stroke-linecap="butt"/>
<line x1="598.77" y1="281.6" x2="611.73" y2="281.6" stroke="#000" stroke-width="1.9" stroke-linecap="butt"/>
<line x1="599.5" y1="281.6" x2="599.5" y2="287.2" stroke="#000" stroke-width="1.45" stroke-linecap="butt"/>
<line x1="611" y1="281.6" x2="611" y2="328.1" stroke="#000" stroke-width="1.45" stroke-linecap="butt"/>
<text x="474.38" y="249.05" font-size="8.2" font-weight="bold" text-anchor="middle" letter-spacing="0.75">**</text>
<text x="524.27" y="246.55" font-size="8.2" font-weight="bold" text-anchor="middle" letter-spacing="0.75">**</text>
<text x="518.38" y="261.05" font-size="8.2" font-weight="bold" text-anchor="middle" letter-spacing="0.75">*</text>
<text x="566.38" y="247.55" font-size="8.2" font-weight="bold" text-anchor="middle" letter-spacing="0.75">****</text>
<text x="563.17" y="268.95" font-size="8.2" font-weight="bold" text-anchor="middle" letter-spacing="0.75">***</text>
<text x="610.98" y="265.45" font-size="8.2" font-weight="bold" text-anchor="middle" letter-spacing="0.75">****</text>
<text x="608.27" y="281.95" font-size="8.2" font-weight="bold" text-anchor="middle" letter-spacing="0.75">****</text>
<text x="502" y="226.55" font-size="11.15" font-weight="bold" text-anchor="middle">MOLM-13</text>
<text x="502" y="392.4" font-size="11.3" font-weight="bold" text-anchor="middle">Cisplatin (<tspan font-family="DejaVu Serif, Liberation Serif, serif" font-weight="normal">μ</tspan>M)</text>
<text x="324.2" y="224" font-size="9.4" font-weight="bold" text-anchor="start">d)</text>
<text x="345.7" y="299.3" font-size="9.15" font-weight="bold" text-anchor="middle" transform="rotate(-90 345.7 299.3)">Cell Viability (%<tspan dx="1.3">)</tspan></text>
<rect x="651.95" y="240.3" width="10.6" height="4.6" fill="#000" stroke="#000" stroke-width="1.7"/>
<text x="670.4" y="245.85" font-size="9.15" font-weight="normal" text-anchor="start">24h</text>
<rect x="651.95" y="256" width="10.6" height="4.6" fill="#f6b980" stroke="#000" stroke-width="1.7"/>
<text x="670.4" y="261.55" font-size="9.15" font-weight="normal" text-anchor="start">48h</text>
<rect x="651.95" y="271.7" width="10.6" height="4.6" fill="#808000" stroke="#000" stroke-width="1.7"/>
<text x="670.4" y="277.25" font-size="9.15" font-weight="normal" text-anchor="start">72h</text>
<rect x="52.75" y="477.15" width="19.5" height="101.8" fill="#808080" stroke="#000" stroke-width="1.5"/>
<line x1="94.6" y1="481.5" x2="94.6" y2="494.7" stroke="#222" stroke-width="0.85" stroke-linecap="butt"/>
<line x1="89.4" y1="481.5" x2="99.8" y2="481.5" stroke="#222" stroke-width="0.85" stroke-linecap="butt"/>
<rect x="84.85" y="494.95" width="19.5" height="84" fill="#808080" stroke="#000" stroke-width="1.5"/>
<line x1="126.8" y1="484.7" x2="126.8" y2="496.1" stroke="#222" stroke-width="0.85" stroke-linecap="butt"/>
<line x1="121.6" y1="484.7" x2="132" y2="484.7" stroke="#222" stroke-width="0.85" stroke-linecap="butt"/>
<rect x="117.05" y="496.35" width="19.5" height="82.6" fill="#808080" stroke="#000" stroke-width="1.5"/>
<line x1="158.9" y1="478.7" x2="158.9" y2="503.5" stroke="#222" stroke-width="0.85" stroke-linecap="butt"/>
<line x1="153.7" y1="478.7" x2="164.1" y2="478.7" stroke="#222" stroke-width="0.85" stroke-linecap="butt"/>
<rect x="149.15" y="503.75" width="19.5" height="75.2" fill="#808080" stroke="#000" stroke-width="1.5"/>
<line x1="191" y1="494.5" x2="191" y2="511" stroke="#222" stroke-width="0.85" stroke-linecap="butt"/>
<line x1="185.8" y1="494.5" x2="196.2" y2="494.5" stroke="#222" stroke-width="0.85" stroke-linecap="butt"/>
<rect x="181.25" y="511.25" width="19.5" height="67.7" fill="#808080" stroke="#000" stroke-width="1.5"/>
<line x1="223.2" y1="500.8" x2="223.2" y2="522.5" stroke="#222" stroke-width="0.85" stroke-linecap="butt"/>
<line x1="218" y1="500.8" x2="228.4" y2="500.8" stroke="#222" stroke-width="0.85" stroke-linecap="butt"/>
<rect x="213.45" y="522.75" width="19.5" height="56.2" fill="#808080" stroke="#000" stroke-width="1.5"/>
<line x1="255.4" y1="513.8" x2="255.4" y2="538.1" stroke="#222" stroke-width="0.85" stroke-linecap="butt"/>
<line x1="250.2" y1="513.8" x2="260.6" y2="513.8" stroke="#222" stroke-width="0.85" stroke-linecap="butt"/>
<rect x="245.65" y="538.35" width="19.5" height="40.6" fill="#808080" stroke="#000" stroke-width="1.5"/>
<line x1="287.5" y1="553.6" x2="287.5" y2="560.7" stroke="#222" stroke-width="0.85" stroke-linecap="butt"/>
<line x1="282.3" y1="553.6" x2="292.7" y2="553.6" stroke="#222" stroke-width="0.85" stroke-linecap="butt"/>
<rect x="277.75" y="560.95" width="19.5" height="18" fill="#808080" stroke="#000" stroke-width="1.5"/>
<line x1="319.5" y1="551.5" x2="319.5" y2="559.5" stroke="#222" stroke-width="0.85" stroke-linecap="butt"/>
<line x1="314.3" y1="551.5" x2="324.7" y2="551.5" stroke="#222" stroke-width="0.85" stroke-linecap="butt"/>
<rect x="309.75" y="559.75" width="19.5" height="19.2" fill="#808080" stroke="#000" stroke-width="1.5"/>
<line x1="41.3" y1="475.8" x2="41.3" y2="580.9" stroke="#000" stroke-width="1.45" stroke-linecap="butt"/>
<line x1="40.57" y1="580" x2="341.8" y2="580" stroke="#000" stroke-width="1.8" stroke-linecap="butt"/>
<line x1="36.3" y1="580" x2="41.3" y2="580" stroke="#000" stroke-width="1.7" stroke-linecap="butt"/>
<text transform="translate(35.3 583.3) scale(1 1.15)" font-size="8.1" font-weight="bold" text-anchor="end">0</text>
<line x1="36.3" y1="528.35" x2="41.3" y2="528.35" stroke="#000" stroke-width="1.7" stroke-linecap="butt"/>
<text transform="translate(35.3 531.65) scale(1 1.15)" font-size="8.1" font-weight="bold" text-anchor="end">50</text>
<line x1="36.3" y1="476.7" x2="41.3" y2="476.7" stroke="#000" stroke-width="1.7" stroke-linecap="butt"/>
<text transform="translate(35.3 480) scale(1 1.15)" font-size="8.1" font-weight="bold" text-anchor="end">100</text>
<line x1="62.5" y1="579.7" x2="62.5" y2="584.4" stroke="#000" stroke-width="1.45" stroke-linecap="butt"/>
<text x="61.8" y="592.45" font-size="8" font-weight="bold" text-anchor="middle">Control</text>
<line x1="94.6" y1="579.7" x2="94.6" y2="584.4" stroke="#000" stroke-width="1.45" stroke-linecap="butt"/>
<text x="94.6" y="592.45" font-size="8" font-weight="bold" text-anchor="middle">50<tspan font-family="DejaVu Serif, Liberation Serif, serif" font-weight="normal">μ</tspan>M</text>
<line x1="126.8" y1="579.7" x2="126.8" y2="584.4" stroke="#000" stroke-width="1.45" stroke-linecap="butt"/>
<text x="126.8" y="592.45" font-size="8" font-weight="bold" text-anchor="middle">100<tspan font-family="DejaVu Serif, Liberation Serif, serif" font-weight="normal">μ</tspan>M</text>
<line x1="158.9" y1="579.7" x2="158.9" y2="584.4" stroke="#000" stroke-width="1.45" stroke-linecap="butt"/>
<text x="158.9" y="592.45" font-size="8" font-weight="bold" text-anchor="middle">200<tspan font-family="DejaVu Serif, Liberation Serif, serif" font-weight="normal">μ</tspan>M</text>
<line x1="191" y1="579.7" x2="191" y2="584.4" stroke="#000" stroke-width="1.45" stroke-linecap="butt"/>
<text x="191" y="592.45" font-size="8" font-weight="bold" text-anchor="middle">300<tspan font-family="DejaVu Serif, Liberation Serif, serif" font-weight="normal">μ</tspan>M</text>
<line x1="223.2" y1="579.7" x2="223.2" y2="584.4" stroke="#000" stroke-width="1.45" stroke-linecap="butt"/>
<text x="223.2" y="592.45" font-size="8" font-weight="bold" text-anchor="middle">500<tspan font-family="DejaVu Serif, Liberation Serif, serif" font-weight="normal">μ</tspan>M</text>
<line x1="255.4" y1="579.7" x2="255.4" y2="584.4" stroke="#000" stroke-width="1.45" stroke-linecap="butt"/>
<text x="255.4" y="592.45" font-size="8" font-weight="bold" text-anchor="middle">1mM</text>
<line x1="287.5" y1="579.7" x2="287.5" y2="584.4" stroke="#000" stroke-width="1.45" stroke-linecap="butt"/>
<text x="287.5" y="592.45" font-size="8" font-weight="bold" text-anchor="middle">2mM</text>
<line x1="319.5" y1="579.7" x2="319.5" y2="584.4" stroke="#000" stroke-width="1.45" stroke-linecap="butt"/>
<text x="319.5" y="592.45" font-size="8" font-weight="bold" text-anchor="middle">5mM</text>
<text x="159.7" y="479.62" font-size="9.6" font-weight="bold" text-anchor="middle" letter-spacing="0">**</text>
<text x="191.8" y="495.72" font-size="9.6" font-weight="bold" text-anchor="middle" letter-spacing="0">***</text>
<text x="223.8" y="502.52" font-size="9.6" font-weight="bold" text-anchor="middle" letter-spacing="0">****</text>
<text x="256.4" y="514.22" font-size="9.6" font-weight="bold" text-anchor="middle" letter-spacing="0">****</text>
<text x="287.5" y="554.92" font-size="9.6" font-weight="bold" text-anchor="middle" letter-spacing="0">****</text>
<text x="319.3" y="551.92" font-size="9.6" font-weight="bold" text-anchor="middle" letter-spacing="0">****</text>
<text x="190.7" y="442.6" font-size="11.4" font-weight="bold" text-anchor="middle">FIBROBLAST</text>
<text x="190.5" y="610.9" font-size="10.05" font-weight="bold" text-anchor="middle">Tomatidine (48h)</text>
<text x="10.5" y="440.2" font-size="9.4" font-weight="bold" text-anchor="start">e)</text>
<text x="17.4" y="527.8" font-size="9.7" font-weight="bold" text-anchor="middle" transform="rotate(-90 17.4 527.8)">Cell Viability (%)</text>
</svg>
</body>
</html>
